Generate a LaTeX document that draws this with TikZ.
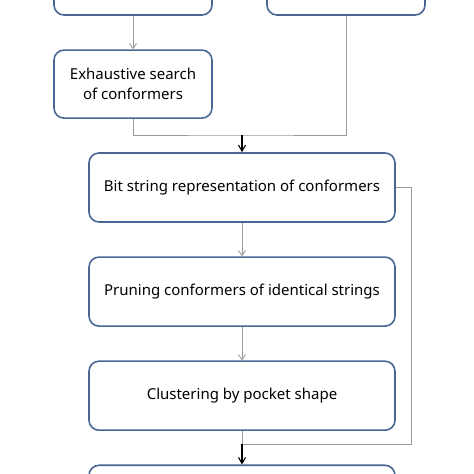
\documentclass[tikz,border=0pt]{standalone}
\usepackage{fontspec}
\setmainfont{Noto Sans}
\usepackage{tikz}
\usetikzlibrary{arrows.meta,positioning}
\definecolor{FlowBlue}{HTML}{4A6794}
\definecolor{FlowGray}{HTML}{9A9A9A}
\tikzset{
  stage/.style={draw=FlowBlue, line width=1.6pt, rounded corners=10pt, fill=white,
    align=center, font=\fontsize{15}{20}\selectfont},
  smallstage/.style={stage, minimum width=158pt, minimum height=68pt},
  widestage/.style={stage, minimum width=306pt, minimum height=69pt},
  link/.style={-{Straight Barb[length=5pt,width=7pt]}, draw=FlowGray, line width=0.9pt},
  joinline/.style={draw=FlowGray, line width=0.9pt},
  mergelink/.style={-{Straight Barb[length=6pt,width=7pt]}, draw=black, line width=1.1pt}
}
\begin{document}
\begin{tikzpicture}[x=1pt, y=1pt, node distance=33.5pt]
  \useasboundingbox (0,0) rectangle (474,474);
  \clip (0,0) rectangle (474,474);
  \node[smallstage] (source) at (133,493) {};
  \node[smallstage] (library) at (346,493) {};
  \node[smallstage, below=of source] (search) {Exhaustive search\\of conformers};
  \node[widestage] (bits) at (242,286.5) {Bit string representation of conformers};
  \node[widestage, below=of bits] (prune) {Pruning conformers of identical strings};
  \node[widestage, below=of prune] (cluster) {Clustering by pocket shape};
  \node[widestage, below=of cluster] (result) {};
  \coordinate (mergetop) at (242,339);
  \coordinate (mergelow) at (242,30);
  \draw[link] (source) -- (search);
  \draw[joinline] (search.south) |- (mergetop) -| (library.south);
  \draw[mergelink] (mergetop) -- (bits.north);
  \draw[link] (bits) -- (prune);
  \draw[link] (prune) -- (cluster);
  \draw[joinline] (bits.east) -- ++(16,0) |- (mergelow);
  \draw[joinline] (cluster.south) -- (mergelow);
  \draw[mergelink] (mergelow) -- (result.north);
\end{tikzpicture}
\end{document}
